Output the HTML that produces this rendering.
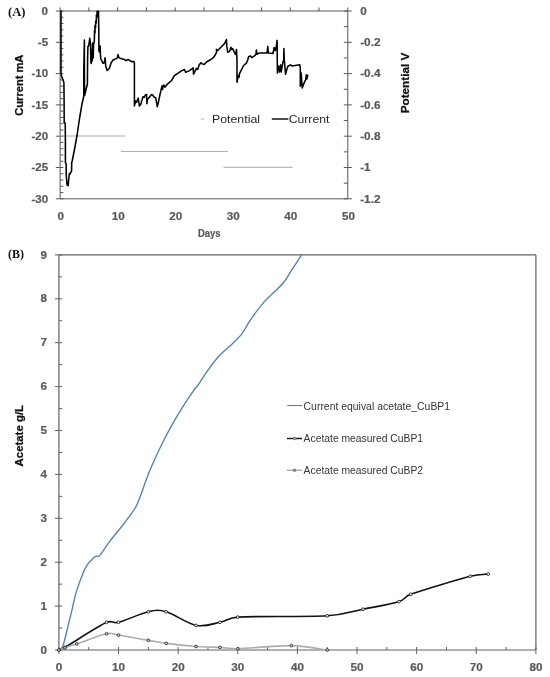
<!DOCTYPE html>
<html lang="en"><head><meta charset="utf-8"><title>Figure</title>
<style>
html,body{margin:0;padding:0;background:#fff;}
body{width:550px;height:677px;overflow:hidden;}
svg{display:block;}
text{white-space:pre;}
</style></head><body>
<svg width="550" height="677" viewBox="0 0 550 677">
<rect width="550" height="677" fill="#ffffff"/>
<g id="chartA">
<line x1="60.1" y1="11.0" x2="347.8" y2="11.0" stroke="#585858" stroke-width="1" />
<line x1="60.1" y1="11.0" x2="60.1" y2="198.8" stroke="#585858" stroke-width="1" />
<line x1="60.1" y1="198.8" x2="347.8" y2="198.8" stroke="#585858" stroke-width="1" />
<line x1="347.8" y1="11.0" x2="347.8" y2="198.8" stroke="#585858" stroke-width="1" />
<line x1="60.1" y1="11.0" x2="60.1" y2="7.4" stroke="#585858" stroke-width="1" />
<line x1="88.87" y1="11.0" x2="88.87" y2="7.4" stroke="#585858" stroke-width="1" />
<line x1="117.64" y1="11.0" x2="117.64" y2="7.4" stroke="#585858" stroke-width="1" />
<line x1="146.41" y1="11.0" x2="146.41" y2="7.4" stroke="#585858" stroke-width="1" />
<line x1="175.18" y1="11.0" x2="175.18" y2="7.4" stroke="#585858" stroke-width="1" />
<line x1="203.95" y1="11.0" x2="203.95" y2="7.4" stroke="#585858" stroke-width="1" />
<line x1="232.72" y1="11.0" x2="232.72" y2="7.4" stroke="#585858" stroke-width="1" />
<line x1="261.49" y1="11.0" x2="261.49" y2="7.4" stroke="#585858" stroke-width="1" />
<line x1="290.26" y1="11.0" x2="290.26" y2="7.4" stroke="#585858" stroke-width="1" />
<line x1="319.03000000000003" y1="11.0" x2="319.03000000000003" y2="7.4" stroke="#585858" stroke-width="1" />
<line x1="347.8" y1="11.0" x2="347.8" y2="7.4" stroke="#585858" stroke-width="1" />
<line x1="55.800000000000004" y1="11.0" x2="63.4" y2="11.0" stroke="#585858" stroke-width="1" />
<line x1="60.1" y1="17.26" x2="63.4" y2="17.26" stroke="#585858" stroke-width="1" />
<line x1="60.1" y1="23.520000000000003" x2="63.4" y2="23.520000000000003" stroke="#585858" stroke-width="1" />
<line x1="60.1" y1="29.780000000000005" x2="63.4" y2="29.780000000000005" stroke="#585858" stroke-width="1" />
<line x1="60.1" y1="36.040000000000006" x2="63.4" y2="36.040000000000006" stroke="#585858" stroke-width="1" />
<line x1="55.800000000000004" y1="42.3" x2="63.4" y2="42.3" stroke="#585858" stroke-width="1" />
<line x1="60.1" y1="48.56000000000001" x2="63.4" y2="48.56000000000001" stroke="#585858" stroke-width="1" />
<line x1="60.1" y1="54.82000000000001" x2="63.4" y2="54.82000000000001" stroke="#585858" stroke-width="1" />
<line x1="60.1" y1="61.080000000000005" x2="63.4" y2="61.080000000000005" stroke="#585858" stroke-width="1" />
<line x1="60.1" y1="67.34" x2="63.4" y2="67.34" stroke="#585858" stroke-width="1" />
<line x1="55.800000000000004" y1="73.6" x2="63.4" y2="73.6" stroke="#585858" stroke-width="1" />
<line x1="60.1" y1="79.86" x2="63.4" y2="79.86" stroke="#585858" stroke-width="1" />
<line x1="60.1" y1="86.12000000000002" x2="63.4" y2="86.12000000000002" stroke="#585858" stroke-width="1" />
<line x1="60.1" y1="92.38000000000001" x2="63.4" y2="92.38000000000001" stroke="#585858" stroke-width="1" />
<line x1="60.1" y1="98.64000000000001" x2="63.4" y2="98.64000000000001" stroke="#585858" stroke-width="1" />
<line x1="55.800000000000004" y1="104.9" x2="63.4" y2="104.9" stroke="#585858" stroke-width="1" />
<line x1="60.1" y1="111.16000000000001" x2="63.4" y2="111.16000000000001" stroke="#585858" stroke-width="1" />
<line x1="60.1" y1="117.42000000000002" x2="63.4" y2="117.42000000000002" stroke="#585858" stroke-width="1" />
<line x1="60.1" y1="123.68" x2="63.4" y2="123.68" stroke="#585858" stroke-width="1" />
<line x1="60.1" y1="129.94" x2="63.4" y2="129.94" stroke="#585858" stroke-width="1" />
<line x1="55.800000000000004" y1="136.2" x2="63.4" y2="136.2" stroke="#585858" stroke-width="1" />
<line x1="60.1" y1="142.46" x2="63.4" y2="142.46" stroke="#585858" stroke-width="1" />
<line x1="60.1" y1="148.72" x2="63.4" y2="148.72" stroke="#585858" stroke-width="1" />
<line x1="60.1" y1="154.98000000000002" x2="63.4" y2="154.98000000000002" stroke="#585858" stroke-width="1" />
<line x1="60.1" y1="161.24000000000004" x2="63.4" y2="161.24000000000004" stroke="#585858" stroke-width="1" />
<line x1="55.800000000000004" y1="167.5" x2="63.4" y2="167.5" stroke="#585858" stroke-width="1" />
<line x1="60.1" y1="173.76000000000002" x2="63.4" y2="173.76000000000002" stroke="#585858" stroke-width="1" />
<line x1="60.1" y1="180.02" x2="63.4" y2="180.02" stroke="#585858" stroke-width="1" />
<line x1="60.1" y1="186.28000000000003" x2="63.4" y2="186.28000000000003" stroke="#585858" stroke-width="1" />
<line x1="60.1" y1="192.54000000000002" x2="63.4" y2="192.54000000000002" stroke="#585858" stroke-width="1" />
<line x1="55.800000000000004" y1="198.8" x2="63.4" y2="198.8" stroke="#585858" stroke-width="1" />
<line x1="343.8" y1="11.0" x2="351.8" y2="11.0" stroke="#585858" stroke-width="1" />
<line x1="343.8" y1="26.65" x2="347.8" y2="26.65" stroke="#585858" stroke-width="1" />
<line x1="343.8" y1="42.3" x2="351.8" y2="42.3" stroke="#585858" stroke-width="1" />
<line x1="343.8" y1="57.95000000000001" x2="347.8" y2="57.95000000000001" stroke="#585858" stroke-width="1" />
<line x1="343.8" y1="73.6" x2="351.8" y2="73.6" stroke="#585858" stroke-width="1" />
<line x1="343.8" y1="89.25" x2="347.8" y2="89.25" stroke="#585858" stroke-width="1" />
<line x1="343.8" y1="104.90000000000002" x2="351.8" y2="104.90000000000002" stroke="#585858" stroke-width="1" />
<line x1="343.8" y1="120.55000000000001" x2="347.8" y2="120.55000000000001" stroke="#585858" stroke-width="1" />
<line x1="343.8" y1="136.2" x2="351.8" y2="136.2" stroke="#585858" stroke-width="1" />
<line x1="343.8" y1="151.85" x2="347.8" y2="151.85" stroke="#585858" stroke-width="1" />
<line x1="343.8" y1="167.5" x2="351.8" y2="167.5" stroke="#585858" stroke-width="1" />
<line x1="343.8" y1="183.15" x2="347.8" y2="183.15" stroke="#585858" stroke-width="1" />
<line x1="343.8" y1="198.80000000000004" x2="351.8" y2="198.80000000000004" stroke="#585858" stroke-width="1" />
<text x="48.1" y="14.7" font-size="10.5" font-weight="bold" fill="#595959" text-anchor="end" font-family='"Liberation Sans", Arial, sans-serif' stroke="#595959" stroke-width="0.2" textLength="6.5" lengthAdjust="spacingAndGlyphs" >0</text>
<text x="48.1" y="46.0" font-size="10.5" font-weight="bold" fill="#595959" text-anchor="end" font-family='"Liberation Sans", Arial, sans-serif' stroke="#595959" stroke-width="0.2" textLength="10.3" lengthAdjust="spacingAndGlyphs" >-5</text>
<text x="48.1" y="77.3" font-size="10.5" font-weight="bold" fill="#595959" text-anchor="end" font-family='"Liberation Sans", Arial, sans-serif' stroke="#595959" stroke-width="0.2" textLength="16.6" lengthAdjust="spacingAndGlyphs" >-10</text>
<text x="48.1" y="108.60000000000001" font-size="10.5" font-weight="bold" fill="#595959" text-anchor="end" font-family='"Liberation Sans", Arial, sans-serif' stroke="#595959" stroke-width="0.2" textLength="16.6" lengthAdjust="spacingAndGlyphs" >-15</text>
<text x="48.1" y="139.89999999999998" font-size="10.5" font-weight="bold" fill="#595959" text-anchor="end" font-family='"Liberation Sans", Arial, sans-serif' stroke="#595959" stroke-width="0.2" textLength="16.6" lengthAdjust="spacingAndGlyphs" >-20</text>
<text x="48.1" y="171.2" font-size="10.5" font-weight="bold" fill="#595959" text-anchor="end" font-family='"Liberation Sans", Arial, sans-serif' stroke="#595959" stroke-width="0.2" textLength="16.6" lengthAdjust="spacingAndGlyphs" >-25</text>
<text x="48.1" y="202.5" font-size="10.5" font-weight="bold" fill="#595959" text-anchor="end" font-family='"Liberation Sans", Arial, sans-serif' stroke="#595959" stroke-width="0.2" textLength="16.6" lengthAdjust="spacingAndGlyphs" >-30</text>
<text x="60.7" y="219.7" font-size="10.5" font-weight="bold" fill="#595959" text-anchor="middle" font-family='"Liberation Sans", Arial, sans-serif' stroke="#595959" stroke-width="0.2" textLength="6.5" lengthAdjust="spacingAndGlyphs" >0</text>
<text x="118.24" y="219.7" font-size="10.5" font-weight="bold" fill="#595959" text-anchor="middle" font-family='"Liberation Sans", Arial, sans-serif' stroke="#595959" stroke-width="0.2" textLength="13" lengthAdjust="spacingAndGlyphs" >10</text>
<text x="175.78" y="219.7" font-size="10.5" font-weight="bold" fill="#595959" text-anchor="middle" font-family='"Liberation Sans", Arial, sans-serif' stroke="#595959" stroke-width="0.2" textLength="13" lengthAdjust="spacingAndGlyphs" >20</text>
<text x="233.32" y="219.7" font-size="10.5" font-weight="bold" fill="#595959" text-anchor="middle" font-family='"Liberation Sans", Arial, sans-serif' stroke="#595959" stroke-width="0.2" textLength="13" lengthAdjust="spacingAndGlyphs" >30</text>
<text x="290.86" y="219.7" font-size="10.5" font-weight="bold" fill="#595959" text-anchor="middle" font-family='"Liberation Sans", Arial, sans-serif' stroke="#595959" stroke-width="0.2" textLength="13" lengthAdjust="spacingAndGlyphs" >40</text>
<text x="348.40000000000003" y="219.7" font-size="10.5" font-weight="bold" fill="#595959" text-anchor="middle" font-family='"Liberation Sans", Arial, sans-serif' stroke="#595959" stroke-width="0.2" textLength="13" lengthAdjust="spacingAndGlyphs" >50</text>
<text x="360.2" y="14.7" font-size="10.5" font-weight="bold" fill="#595959" text-anchor="start" font-family='"Liberation Sans", Arial, sans-serif' stroke="#595959" stroke-width="0.2" textLength="6.5" lengthAdjust="spacingAndGlyphs" >0</text>
<text x="360.2" y="46.0" font-size="10.5" font-weight="bold" fill="#595959" text-anchor="start" font-family='"Liberation Sans", Arial, sans-serif' stroke="#595959" stroke-width="0.2" textLength="20.3" lengthAdjust="spacingAndGlyphs" >-0.2</text>
<text x="360.2" y="77.3" font-size="10.5" font-weight="bold" fill="#595959" text-anchor="start" font-family='"Liberation Sans", Arial, sans-serif' stroke="#595959" stroke-width="0.2" textLength="20.3" lengthAdjust="spacingAndGlyphs" >-0.4</text>
<text x="360.2" y="108.60000000000002" font-size="10.5" font-weight="bold" fill="#595959" text-anchor="start" font-family='"Liberation Sans", Arial, sans-serif' stroke="#595959" stroke-width="0.2" textLength="20.3" lengthAdjust="spacingAndGlyphs" >-0.6</text>
<text x="360.2" y="139.89999999999998" font-size="10.5" font-weight="bold" fill="#595959" text-anchor="start" font-family='"Liberation Sans", Arial, sans-serif' stroke="#595959" stroke-width="0.2" textLength="20.3" lengthAdjust="spacingAndGlyphs" >-0.8</text>
<text x="360.2" y="171.2" font-size="10.5" font-weight="bold" fill="#595959" text-anchor="start" font-family='"Liberation Sans", Arial, sans-serif' stroke="#595959" stroke-width="0.2" textLength="10.3" lengthAdjust="spacingAndGlyphs" >-1</text>
<text x="360.2" y="202.50000000000003" font-size="10.5" font-weight="bold" fill="#595959" text-anchor="start" font-family='"Liberation Sans", Arial, sans-serif' stroke="#595959" stroke-width="0.2" textLength="20.3" lengthAdjust="spacingAndGlyphs" >-1.2</text>
<text x="209.3" y="236.8" font-size="10" font-weight="bold" fill="#595959" text-anchor="middle" font-family='"Liberation Sans", Arial, sans-serif' stroke="#595959" stroke-width="0.2" textLength="22.6" lengthAdjust="spacingAndGlyphs" >Days</text>
<text x="23.5" y="85.2" font-size="11" font-weight="bold" fill="#111" text-anchor="middle" font-family='"Liberation Sans", Arial, sans-serif' stroke="#111" stroke-width="0.25" textLength="61" lengthAdjust="spacingAndGlyphs" transform="rotate(-90 23.5 85.2)" >Current mA</text>
<text x="409" y="83" font-size="11" font-weight="bold" fill="#111" text-anchor="middle" font-family='"Liberation Sans", Arial, sans-serif' stroke="#111" stroke-width="0.25" textLength="60.5" lengthAdjust="spacingAndGlyphs" transform="rotate(-90 409 83)" >Potential V</text>
<text x="8" y="16.3" font-size="12.5" font-weight="bold" fill="#111" text-anchor="start" font-family='"Liberation Serif", "Times New Roman", serif' textLength="17.5" lengthAdjust="spacingAndGlyphs" >(A)</text>
<line x1="60.1" y1="136" x2="125.2" y2="136" stroke="#a9a9a9" stroke-width="1" />
<line x1="120.9" y1="151.4" x2="228" y2="151.4" stroke="#a9a9a9" stroke-width="1" />
<line x1="223.4" y1="167.3" x2="292.6" y2="167.3" stroke="#a9a9a9" stroke-width="1" />
<line x1="200.8" y1="119" x2="204" y2="119" stroke="#a9a9a9" stroke-width="0.9" />
<text x="212" y="122.9" font-size="11.5" font-weight="normal" fill="#262626" text-anchor="start" font-family='"Liberation Sans", Arial, sans-serif' textLength="48" lengthAdjust="spacingAndGlyphs" >Potential</text>
<line x1="271.8" y1="119" x2="288.3" y2="119" stroke="#000" stroke-width="1.4" />
<text x="288.8" y="122.9" font-size="11.5" font-weight="normal" fill="#262626" text-anchor="start" font-family='"Liberation Sans", Arial, sans-serif' textLength="40.5" lengthAdjust="spacingAndGlyphs" >Current</text>
<polyline points="61.0,11.0 61.0,73.0 61.6,76.0 63.9,82.5 64.1,100.0 64.2,122.5 65.2,123.0 65.4,141.0 65.4,162.4 66.2,164.3 66.2,174.8 66.9,183.5 67.3,185.4 68.1,185.6 68.5,181.5 69.2,175.0 69.3,173.5 69.9,174.2 71.6,170.8 71.7,162.5 72.2,161.0 74.4,150.0 77.1,135.0 79.6,118.0 82.0,104.0 83.8,96.0 83.8,70.0 84.4,40.0 84.4,70.0 84.6,95.5 87.4,84.0 87.6,60.0 87.9,46.5 88.6,46.0 89.8,38.2 90.5,44.0 90.9,62.5 91.3,63.5 91.6,50.0 92.2,61.0 92.6,43.0 93.2,58.0 93.6,44.0 94.3,42.0 94.6,30.0 95.1,33.0 94.9,25.5 95.6,28.0 95.7,21.0 96.3,23.0 96.4,15.0 97.0,17.0 97.1,11.3 97.8,14.0 98.5,11.2 98.8,30.0 98.9,51.0 99.6,52.0 100.2,46.0 100.5,56.0 100.9,59.0 103.0,63.2 104.4,62.7 105.1,57.7 105.7,65.9 107.1,70.5 109.4,68.2 111.2,62.7 113.0,60.0 116.2,58.6 117.5,57.7 118.0,54.5 118.7,57.3 120.7,58.6 124.4,59.5 126.2,60.6 128.0,59.5 131.6,61.6 133.9,61.6 134.4,62.7 134.4,105.9 135.7,100.9 136.6,102.3 138.2,98.2 139.4,105.9 140.7,104.5 141.6,101.4 143.0,96.8 144.4,97.3 145.3,95.0 146.6,94.5 146.9,103.6 147.5,99.1 149.4,97.3 151.6,94.5 153.0,95.5 154.4,97.3 155.7,97.7 157.3,106.8 158.5,101.8 159.8,95.5 161.2,89.1 162.1,85.9 162.6,89.5 163.0,86.0 163.9,85.0 164.8,87.3 168.0,83.6 171.6,80.5 172.7,78.6 174.5,75.5 178.2,73.2 181.4,70.9 184.5,69.5 185.6,72.3 189.1,70.9 192.3,68.6 193.2,67.7 193.5,74.1 195.0,71.4 196.4,68.2 197.7,69.5 199.1,65.0 200.9,62.7 201.8,63.6 204.1,64.5 206.8,61.8 210.9,59.5 213.6,57.3 215.5,54.5 216.6,52.0 216.4,49.3 217.0,50.8 218.2,50.0 220.9,47.3 224.5,43.6 226.4,39.5 226.8,46.4 227.7,52.3 229.5,51.4 230.9,47.3 231.8,49.5 232.7,48.6 234.1,51.8 235.5,54.5 236.5,49.5 237.0,60.0 237.0,82.3 238.2,75.5 239.1,77.3 239.5,73.6 241.8,69.1 243.6,65.5 246.4,63.2 247.7,60.0 248.6,56.8 250.5,55.9 251.8,57.7 254.5,55.9 255.9,54.5 256.4,50.0 257.0,54.3 259.4,52.9 267.0,52.9 267.8,46.4 268.3,52.9 273.0,53.5 274.1,47.5 275.2,50.7 276.3,46.4 277.1,40.4 277.4,73.1 278.5,66.0 279.5,72.0 280.6,64.9 281.2,72.0 282.8,62.7 283.7,60.0 283.9,48.5 284.3,60.0 284.6,63.0 285.5,74.2 286.6,70.4 287.7,66.5 290.5,64.9 292.1,66.0 299.7,64.7 300.3,68.0 300.3,86.2 301.2,73.0 302.2,88.0 304.1,82.9 305.7,79.6 306.3,74.7 306.8,79.1 307.7,75.3" fill="none" stroke="#000" stroke-width="1.55" stroke-linejoin="round" stroke-linecap="round" />
</g>
<g id="chartB">
<line x1="58.9" y1="254.9" x2="535.9" y2="254.9" stroke="#626262" stroke-width="1.2" />
<line x1="535.9" y1="254.9" x2="535.9" y2="650.0" stroke="#626262" stroke-width="1.2" />
<line x1="58.9" y1="254.9" x2="58.9" y2="650.0" stroke="#626262" stroke-width="1.2" />
<line x1="58.9" y1="650.0" x2="535.9" y2="650.0" stroke="#626262" stroke-width="1.2" />
<line x1="54.9" y1="650.0" x2="62.1" y2="650.0" stroke="#626262" stroke-width="1" />
<line x1="58.9" y1="628.05" x2="62.1" y2="628.05" stroke="#626262" stroke-width="1" />
<line x1="54.9" y1="606.1" x2="62.1" y2="606.1" stroke="#626262" stroke-width="1" />
<line x1="58.9" y1="584.15" x2="62.1" y2="584.15" stroke="#626262" stroke-width="1" />
<line x1="54.9" y1="562.2" x2="62.1" y2="562.2" stroke="#626262" stroke-width="1" />
<line x1="58.9" y1="540.25" x2="62.1" y2="540.25" stroke="#626262" stroke-width="1" />
<line x1="54.9" y1="518.3" x2="62.1" y2="518.3" stroke="#626262" stroke-width="1" />
<line x1="58.9" y1="496.35" x2="62.1" y2="496.35" stroke="#626262" stroke-width="1" />
<line x1="54.9" y1="474.4" x2="62.1" y2="474.4" stroke="#626262" stroke-width="1" />
<line x1="58.9" y1="452.45" x2="62.1" y2="452.45" stroke="#626262" stroke-width="1" />
<line x1="54.9" y1="430.5" x2="62.1" y2="430.5" stroke="#626262" stroke-width="1" />
<line x1="58.9" y1="408.54999999999995" x2="62.1" y2="408.54999999999995" stroke="#626262" stroke-width="1" />
<line x1="54.9" y1="386.59999999999997" x2="62.1" y2="386.59999999999997" stroke="#626262" stroke-width="1" />
<line x1="58.9" y1="364.65" x2="62.1" y2="364.65" stroke="#626262" stroke-width="1" />
<line x1="54.9" y1="342.7" x2="62.1" y2="342.7" stroke="#626262" stroke-width="1" />
<line x1="58.9" y1="320.75" x2="62.1" y2="320.75" stroke="#626262" stroke-width="1" />
<line x1="54.9" y1="298.79999999999995" x2="62.1" y2="298.79999999999995" stroke="#626262" stroke-width="1" />
<line x1="58.9" y1="276.84999999999997" x2="62.1" y2="276.84999999999997" stroke="#626262" stroke-width="1" />
<line x1="54.9" y1="254.89999999999998" x2="62.1" y2="254.89999999999998" stroke="#626262" stroke-width="1" />
<line x1="58.9" y1="647.0" x2="58.9" y2="654.0" stroke="#626262" stroke-width="1" />
<line x1="88.7125" y1="647.0" x2="88.7125" y2="650.0" stroke="#626262" stroke-width="1" />
<line x1="118.525" y1="647.0" x2="118.525" y2="654.0" stroke="#626262" stroke-width="1" />
<line x1="148.3375" y1="647.0" x2="148.3375" y2="650.0" stroke="#626262" stroke-width="1" />
<line x1="178.15" y1="647.0" x2="178.15" y2="654.0" stroke="#626262" stroke-width="1" />
<line x1="207.9625" y1="647.0" x2="207.9625" y2="650.0" stroke="#626262" stroke-width="1" />
<line x1="237.775" y1="647.0" x2="237.775" y2="654.0" stroke="#626262" stroke-width="1" />
<line x1="267.5875" y1="647.0" x2="267.5875" y2="650.0" stroke="#626262" stroke-width="1" />
<line x1="297.4" y1="647.0" x2="297.4" y2="654.0" stroke="#626262" stroke-width="1" />
<line x1="327.2125" y1="647.0" x2="327.2125" y2="650.0" stroke="#626262" stroke-width="1" />
<line x1="357.025" y1="647.0" x2="357.025" y2="654.0" stroke="#626262" stroke-width="1" />
<line x1="386.8375" y1="647.0" x2="386.8375" y2="650.0" stroke="#626262" stroke-width="1" />
<line x1="416.65" y1="647.0" x2="416.65" y2="654.0" stroke="#626262" stroke-width="1" />
<line x1="446.4625" y1="647.0" x2="446.4625" y2="650.0" stroke="#626262" stroke-width="1" />
<line x1="476.275" y1="647.0" x2="476.275" y2="654.0" stroke="#626262" stroke-width="1" />
<line x1="506.0875" y1="647.0" x2="506.0875" y2="650.0" stroke="#626262" stroke-width="1" />
<line x1="535.9" y1="647.0" x2="535.9" y2="654.0" stroke="#626262" stroke-width="1" />
<text x="46.9" y="653.6" font-size="10.5" font-weight="bold" fill="#595959" text-anchor="end" font-family='"Liberation Sans", Arial, sans-serif' stroke="#595959" stroke-width="0.2" textLength="6.5" lengthAdjust="spacingAndGlyphs" >0</text>
<text x="46.9" y="609.7" font-size="10.5" font-weight="bold" fill="#595959" text-anchor="end" font-family='"Liberation Sans", Arial, sans-serif' stroke="#595959" stroke-width="0.2" textLength="6.5" lengthAdjust="spacingAndGlyphs" >1</text>
<text x="46.9" y="565.8000000000001" font-size="10.5" font-weight="bold" fill="#595959" text-anchor="end" font-family='"Liberation Sans", Arial, sans-serif' stroke="#595959" stroke-width="0.2" textLength="6.5" lengthAdjust="spacingAndGlyphs" >2</text>
<text x="46.9" y="521.9" font-size="10.5" font-weight="bold" fill="#595959" text-anchor="end" font-family='"Liberation Sans", Arial, sans-serif' stroke="#595959" stroke-width="0.2" textLength="6.5" lengthAdjust="spacingAndGlyphs" >3</text>
<text x="46.9" y="478.0" font-size="10.5" font-weight="bold" fill="#595959" text-anchor="end" font-family='"Liberation Sans", Arial, sans-serif' stroke="#595959" stroke-width="0.2" textLength="6.5" lengthAdjust="spacingAndGlyphs" >4</text>
<text x="46.9" y="434.1" font-size="10.5" font-weight="bold" fill="#595959" text-anchor="end" font-family='"Liberation Sans", Arial, sans-serif' stroke="#595959" stroke-width="0.2" textLength="6.5" lengthAdjust="spacingAndGlyphs" >5</text>
<text x="46.9" y="390.2" font-size="10.5" font-weight="bold" fill="#595959" text-anchor="end" font-family='"Liberation Sans", Arial, sans-serif' stroke="#595959" stroke-width="0.2" textLength="6.5" lengthAdjust="spacingAndGlyphs" >6</text>
<text x="46.9" y="346.3" font-size="10.5" font-weight="bold" fill="#595959" text-anchor="end" font-family='"Liberation Sans", Arial, sans-serif' stroke="#595959" stroke-width="0.2" textLength="6.5" lengthAdjust="spacingAndGlyphs" >7</text>
<text x="46.9" y="302.4" font-size="10.5" font-weight="bold" fill="#595959" text-anchor="end" font-family='"Liberation Sans", Arial, sans-serif' stroke="#595959" stroke-width="0.2" textLength="6.5" lengthAdjust="spacingAndGlyphs" >8</text>
<text x="46.9" y="258.5" font-size="10.5" font-weight="bold" fill="#595959" text-anchor="end" font-family='"Liberation Sans", Arial, sans-serif' stroke="#595959" stroke-width="0.2" textLength="6.5" lengthAdjust="spacingAndGlyphs" >9</text>
<text x="58.9" y="670.6" font-size="10.8" font-weight="bold" fill="#595959" text-anchor="middle" font-family='"Liberation Sans", Arial, sans-serif' stroke="#595959" stroke-width="0.2" textLength="6.5" lengthAdjust="spacingAndGlyphs" >0</text>
<text x="118.525" y="670.6" font-size="10.8" font-weight="bold" fill="#595959" text-anchor="middle" font-family='"Liberation Sans", Arial, sans-serif' stroke="#595959" stroke-width="0.2" textLength="13" lengthAdjust="spacingAndGlyphs" >10</text>
<text x="178.15" y="670.6" font-size="10.8" font-weight="bold" fill="#595959" text-anchor="middle" font-family='"Liberation Sans", Arial, sans-serif' stroke="#595959" stroke-width="0.2" textLength="13" lengthAdjust="spacingAndGlyphs" >20</text>
<text x="237.775" y="670.6" font-size="10.8" font-weight="bold" fill="#595959" text-anchor="middle" font-family='"Liberation Sans", Arial, sans-serif' stroke="#595959" stroke-width="0.2" textLength="13" lengthAdjust="spacingAndGlyphs" >30</text>
<text x="297.4" y="670.6" font-size="10.8" font-weight="bold" fill="#595959" text-anchor="middle" font-family='"Liberation Sans", Arial, sans-serif' stroke="#595959" stroke-width="0.2" textLength="13" lengthAdjust="spacingAndGlyphs" >40</text>
<text x="357.025" y="670.6" font-size="10.8" font-weight="bold" fill="#595959" text-anchor="middle" font-family='"Liberation Sans", Arial, sans-serif' stroke="#595959" stroke-width="0.2" textLength="13" lengthAdjust="spacingAndGlyphs" >50</text>
<text x="416.65" y="670.6" font-size="10.8" font-weight="bold" fill="#595959" text-anchor="middle" font-family='"Liberation Sans", Arial, sans-serif' stroke="#595959" stroke-width="0.2" textLength="13" lengthAdjust="spacingAndGlyphs" >60</text>
<text x="476.275" y="670.6" font-size="10.8" font-weight="bold" fill="#595959" text-anchor="middle" font-family='"Liberation Sans", Arial, sans-serif' stroke="#595959" stroke-width="0.2" textLength="13" lengthAdjust="spacingAndGlyphs" >70</text>
<text x="535.9" y="670.6" font-size="10.8" font-weight="bold" fill="#595959" text-anchor="middle" font-family='"Liberation Sans", Arial, sans-serif' stroke="#595959" stroke-width="0.2" textLength="13" lengthAdjust="spacingAndGlyphs" >80</text>
<text x="23.5" y="435.7" font-size="11" font-weight="bold" fill="#111" text-anchor="middle" font-family='"Liberation Sans", Arial, sans-serif' stroke="#111" stroke-width="0.25" textLength="61.5" lengthAdjust="spacingAndGlyphs" transform="rotate(-90 23.5 435.7)" >Acetate g/L</text>
<text x="8" y="258.3" font-size="12" font-weight="bold" fill="#111" text-anchor="start" font-family='"Liberation Serif", "Times New Roman", serif' textLength="16" lengthAdjust="spacingAndGlyphs" >(B)</text>
<path d="M59.30,649.60 C59.58,649.43 60.43,649.15 61.00,648.60 C61.57,648.05 62.15,647.52 62.70,646.30 C63.25,645.08 63.68,643.52 64.30,641.30 C64.92,639.08 65.57,636.43 66.40,633.00 C67.23,629.57 68.40,624.42 69.30,620.70 C70.20,616.98 70.98,614.15 71.80,610.70 C72.62,607.25 73.38,603.38 74.20,600.00 C75.02,596.62 75.32,594.67 76.70,590.40 C78.08,586.13 80.78,578.60 82.50,574.40 C84.22,570.20 85.48,567.60 87.00,565.20 C88.52,562.80 90.27,561.45 91.60,560.00 C92.93,558.55 93.85,557.12 95.00,556.50 C96.15,555.88 97.53,556.68 98.50,556.30 C99.47,555.92 99.86,555.44 100.80,554.20 C102.70,551.68 106.10,546.23 109.90,541.20 C113.70,536.17 119.32,529.65 123.60,524.00 C127.88,518.35 132.58,512.57 135.60,507.30 C138.62,502.03 139.35,498.50 141.70,492.40 C144.05,486.30 146.27,478.90 149.70,470.70 C153.13,462.50 158.48,451.02 162.30,443.20 C166.12,435.38 169.17,429.90 172.60,423.80 C176.03,417.70 179.27,412.32 182.90,406.60 C186.53,400.88 192.18,392.73 194.40,389.50 C195.23,388.30 195.75,387.70 196.20,387.20 C196.58,386.78 196.77,386.97 197.10,386.50 C199.02,383.75 204.08,375.73 207.70,370.70 C211.32,365.67 214.73,360.73 218.80,356.30 C222.87,351.87 228.23,347.87 232.10,344.10 C235.97,340.33 239.05,337.58 242.00,333.70 C244.95,329.82 246.28,325.90 249.80,320.80 C253.32,315.70 257.57,309.37 263.10,303.10 C268.63,296.83 278.22,288.73 283.00,283.20 C287.78,277.67 288.73,274.58 291.80,269.90 C294.87,265.22 299.80,257.57 301.40,255.10" fill="none" stroke="#4f81bd" stroke-width="1.35" stroke-linejoin="round"/>
<path d="M58.90,650.00 C59.89,649.56 62.04,649.00 64.86,647.37 C72.81,642.76 97.66,626.51 106.60,622.34 C112.00,619.82 112.74,623.80 118.53,622.34 C125.48,620.59 140.39,613.56 148.34,611.81 C156.29,610.05 158.28,609.54 166.22,611.81 C174.17,614.08 187.09,623.66 196.04,625.42 C204.98,627.17 212.93,623.73 219.89,622.34 C226.84,620.95 228.47,617.65 237.78,617.08 C255.66,615.98 306.34,617.08 327.21,615.76 C345.36,614.61 351.06,611.51 362.99,609.17 C374.91,606.83 390.81,604.20 398.76,601.71 C405.48,599.61 404.06,596.61 410.69,594.25 C422.61,590.00 457.39,579.61 470.31,576.25 C479.03,573.98 485.22,574.42 488.20,574.05" fill="none" stroke="#111" stroke-width="1.6" stroke-linejoin="round"/>
<path d="M58.90,650.00 C59.89,649.63 61.88,648.83 64.86,647.80 C67.84,646.78 70.83,645.86 76.79,643.85 C83.74,641.51 99.64,635.22 106.60,633.76 C112.47,632.52 112.60,634.14 118.53,635.07 C125.48,636.17 140.39,638.95 148.34,640.34 C156.29,641.73 158.28,642.39 166.22,643.41 C174.17,644.44 187.09,645.83 196.04,646.49 C204.98,647.15 212.93,647.00 219.89,647.37 C226.84,647.73 228.81,648.90 237.78,648.68 C249.70,648.39 276.53,645.39 291.44,645.61 C306.34,645.83 321.25,649.27 327.21,650.00" fill="none" stroke="#adadad" stroke-width="1.6" stroke-linejoin="round"/>
<circle cx="58.9" cy="650.0" r="1.4" fill="#eee" stroke="#111" stroke-width="0.8"/>
<circle cx="64.9" cy="647.4" r="1.4" fill="#eee" stroke="#111" stroke-width="0.8"/>
<circle cx="106.6" cy="622.3" r="1.4" fill="#eee" stroke="#111" stroke-width="0.8"/>
<circle cx="118.5" cy="622.3" r="1.4" fill="#eee" stroke="#111" stroke-width="0.8"/>
<circle cx="148.3" cy="611.8" r="1.4" fill="#eee" stroke="#111" stroke-width="0.8"/>
<circle cx="166.2" cy="611.8" r="1.4" fill="#eee" stroke="#111" stroke-width="0.8"/>
<circle cx="196.0" cy="625.4" r="1.4" fill="#eee" stroke="#111" stroke-width="0.8"/>
<circle cx="219.9" cy="622.3" r="1.4" fill="#eee" stroke="#111" stroke-width="0.8"/>
<circle cx="237.8" cy="617.1" r="1.4" fill="#eee" stroke="#111" stroke-width="0.8"/>
<circle cx="327.2" cy="615.8" r="1.4" fill="#eee" stroke="#111" stroke-width="0.8"/>
<circle cx="363.0" cy="609.2" r="1.4" fill="#eee" stroke="#111" stroke-width="0.8"/>
<circle cx="398.8" cy="601.7" r="1.4" fill="#eee" stroke="#111" stroke-width="0.8"/>
<circle cx="410.7" cy="594.2" r="1.4" fill="#eee" stroke="#111" stroke-width="0.8"/>
<circle cx="470.3" cy="576.2" r="1.4" fill="#eee" stroke="#111" stroke-width="0.8"/>
<circle cx="488.2" cy="574.1" r="1.4" fill="#eee" stroke="#111" stroke-width="0.8"/>
<circle cx="58.9" cy="650.0" r="1.4" fill="#ccc" stroke="#222" stroke-width="0.8"/>
<circle cx="64.9" cy="647.8" r="1.4" fill="#ccc" stroke="#222" stroke-width="0.8"/>
<circle cx="76.8" cy="643.9" r="1.4" fill="#ccc" stroke="#222" stroke-width="0.8"/>
<circle cx="106.6" cy="633.8" r="1.4" fill="#ccc" stroke="#222" stroke-width="0.8"/>
<circle cx="118.5" cy="635.1" r="1.4" fill="#ccc" stroke="#222" stroke-width="0.8"/>
<circle cx="148.3" cy="640.3" r="1.4" fill="#ccc" stroke="#222" stroke-width="0.8"/>
<circle cx="166.2" cy="643.4" r="1.4" fill="#ccc" stroke="#222" stroke-width="0.8"/>
<circle cx="196.0" cy="646.5" r="1.4" fill="#ccc" stroke="#222" stroke-width="0.8"/>
<circle cx="219.9" cy="647.4" r="1.4" fill="#ccc" stroke="#222" stroke-width="0.8"/>
<circle cx="237.8" cy="648.7" r="1.4" fill="#ccc" stroke="#222" stroke-width="0.8"/>
<circle cx="291.4" cy="645.6" r="1.4" fill="#ccc" stroke="#222" stroke-width="0.8"/>
<circle cx="327.2" cy="650.0" r="1.4" fill="#ccc" stroke="#222" stroke-width="0.8"/>
<line x1="287.2" y1="405.5" x2="302.3" y2="405.5" stroke="#4f81bd" stroke-width="1.1" />
<text x="303.6" y="409.7" font-size="10.5" font-weight="normal" fill="#333" text-anchor="start" font-family='"Liberation Sans", Arial, sans-serif' textLength="146.5" lengthAdjust="spacingAndGlyphs" >Current equival acetate_CuBP1</text>
<line x1="287" y1="438.5" x2="302" y2="438.5" stroke="#111" stroke-width="1.4" />
<circle cx="294.5" cy="438.5" r="1.2" fill="#e8e8e8" stroke="#222" stroke-width="0.7"/>
<text x="303.6" y="441.8" font-size="10.5" font-weight="normal" fill="#333" text-anchor="start" font-family='"Liberation Sans", Arial, sans-serif' textLength="119.5" lengthAdjust="spacingAndGlyphs" >Acetate measured CuBP1</text>
<line x1="287" y1="470.3" x2="302" y2="470.3" stroke="#a6a6a6" stroke-width="1.3" />
<circle cx="294.5" cy="470.3" r="1.2" fill="#bbb" stroke="#333" stroke-width="0.7"/>
<text x="303.6" y="473.6" font-size="10.5" font-weight="normal" fill="#333" text-anchor="start" font-family='"Liberation Sans", Arial, sans-serif' textLength="119.5" lengthAdjust="spacingAndGlyphs" >Acetate measured CuBP2</text>
</g>
</svg>
</body></html>
